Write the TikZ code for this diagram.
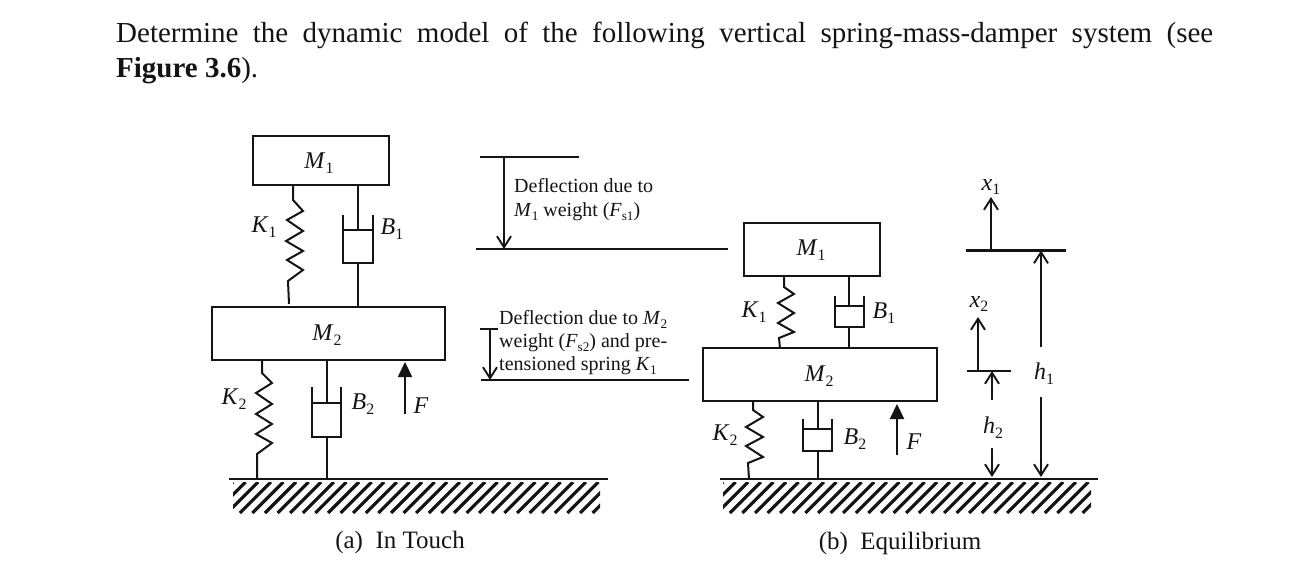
\documentclass[tikz,border=0pt]{standalone}
\usepackage{fontspec}
\setmainfont{Liberation Serif}
\usetikzlibrary{arrows.meta}
\definecolor{inkblack}{RGB}{20, 20, 20}
\newcommand{\Sym}[2]{\textit{#1}\raisebox{-0.2em}{\scalebox{0.66}{#2}}}
\tikzset{
    mass/.style={draw=inkblack, line width=2.1pt, inner sep=0pt, outer sep=0pt},
    lab/.style={inner sep=0pt, font=\fontsize{24}{28}\selectfont, text=inkblack},
    note/.style={inner sep=0pt, anchor=base west, font=\fontsize{20}{23}\selectfont, text=inkblack},
    coil/.style={draw=inkblack, line width=2pt, line join=miter},
    rod/.style={draw=inkblack, line width=2.8pt},
    wall/.style={draw=inkblack, line width=2pt},
    level/.style={draw=inkblack, line width=2.2pt},
    openarrow/.style={draw=inkblack, line width=1.9pt, -{Straight Barb[length=11pt,width=14pt,line width=1.9pt]}},
    forcearrow/.style={draw=inkblack, line width=2.2pt, -{Triangle[length=15pt,width=14pt]}}
}
\begin{document}
\begin{tikzpicture}[x=1pt, y=-1pt]
    \useasboundingbox (0,0) rectangle (1316,588);
    % Statement
    \node[inner sep=0pt, anchor=north west, text width=1097pt, align=justify, text=inkblack,
          font=\fontsize{29}{35}\selectfont] (statement) at (116,22)
         {Determine the dynamic model of the following vertical spring-mass-damper system (see\linebreak \textbf{Figure 3.6}).};
    % Masses
    \node[mass, minimum width=136pt, minimum height=49pt] (massOneA) at (321,160.5) {};
    \node[mass, minimum width=233pt, minimum height=53pt] (massTwoA) at (328.5,333.5) {};
    \node[mass, minimum width=136pt, minimum height=53pt] (massOneB) at (812,249.5) {};
    \node[mass, minimum width=234pt, minimum height=53pt] (massTwoB) at (820,374.5) {};
    % Ground
    \coordinate (groundAl) at (229,479);
    \coordinate (groundAr) at (608,479);
    \coordinate (groundBl) at (720,479);
    \coordinate (groundBr) at (1098,479);
    \draw[level] (groundAl) -- (groundAr);
    \draw[level] (groundBl) -- (groundBr);
    \foreach \xa/\xb in {233/600, 723/1091}{
        \begin{scope}
            \clip (\xa,482) rectangle (\xb,513);
            \foreach \k in {0,...,32}
                \draw[inkblack, line width=3.2pt] (\xa-31+\k*12.6,513) -- ++(31,-31);
        \end{scope}
    }
    % Springs
    \draw[coil] (massOneA.south -| 293,0) -- (293,200) -- (303,211) -- (287,220) -- (303,231) -- (286,241)
                -- (303,251) -- (287,260) -- (303,270) -- (288,281) -- (289,304);
    \draw[coil] (massTwoA.south -| 262,0) -- (262,373) -- (272,383) -- (256,393) -- (272,404) -- (256,414)
                -- (272,424) -- (256,434) -- (272,443) -- (257,454) -- (groundAl -| 257,0);
    \draw[coil] (massOneB.south -| 784,0) -- (784,287) -- (794,294) -- (778,303) -- (794,313) -- (778,323)
                -- (794,332) -- (779,338) -- (massTwoB.north -| 780,0);
    \draw[coil] (massTwoB.south -| 753,0) -- (753,410) -- (763,417) -- (746,427) -- (763,437) -- (746,446)
                -- (763,457) -- (748,463) -- (groundBl -| 749,0);
    % Dampers
    \foreach \up/\down/\x/\xl/\xr/\ytop/\ypis/\ymid/\ybot in {
        massOneA.south/massTwoA.north/358/343/373/215/230/248/263,
        massTwoA.south/groundAl/327/312/341/387/403/419/437,
        massOneB.south/massTwoB.north/849/835/864/296/306/318/327,
        massTwoB.south/groundBl/818/803/832/419/429/441/451}{
        \draw[rod] (\up -| \x,0) -- (\x,\ypis);
        \draw[rod] (\x,\ybot) -- (\down -| \x,0);
        \draw[rod] (\xl,\ytop) -- (\xl,\ymid);
        \draw[rod] (\xr,\ytop) -- (\xr,\ymid);
        \draw[wall] (\xl,\ypis) -- (\xr,\ypis);
        \draw[wall] (\xl,\ymid) -- (\xl,\ybot) -- (\xr,\ybot) -- (\xr,\ymid);
    }
    % Forces
    \coordinate (forceA) at (405,414);
    \coordinate (forceB) at (897,455);
    \draw[forcearrow] (forceA) -- (405,362);
    \draw[forcearrow] (forceB) -- (897,404);
    % Deflection levels
    \coordinate (topLa) at (480,157);
    \coordinate (topLb) at (579,157);
    \coordinate (topLc) at (476,249);
    \coordinate (topLd) at (728,249);
    \coordinate (lowLa) at (480,329);
    \coordinate (lowLb) at (498,329);
    \coordinate (lowLc) at (481,380);
    \coordinate (lowLd) at (689,380);
    \draw[level] (topLa) -- (topLb);
    \draw[level] (topLc) -- (topLd);
    \draw[level] (lowLa) -- (lowLb);
    \draw[level] (lowLc) -- (lowLd);
    \draw[openarrow] (topLa -| 504,0) -- (topLc -| 504,0);
    \draw[openarrow] (lowLa -| 490,0) -- (lowLc -| 490,0);
    % Heights
    \coordinate (levelOneL) at (966,250.5);
    \coordinate (levelOneR) at (1066,250.5);
    \coordinate (levelTwoL) at (967,371);
    \coordinate (levelTwoR) at (1011,371);
    \draw[level] (levelOneL) -- (levelOneR);
    \draw[level] (levelTwoL) -- (levelTwoR);
    \draw[openarrow] (levelOneL -| 991,0) -- (991,197);
    \draw[openarrow] (levelTwoL -| 978,0) -- (978,317);
    \draw[openarrow] (1041,347) -- (levelOneL -| 1041,0);
    \draw[openarrow] (1041,397) -- (1041,477);
    \draw[openarrow] (992,400) -- (levelTwoL -| 992,0);
    \draw[openarrow] (992,448) -- (992,477);
    % Labels (a)
    \node[lab] (labMoneA) at (319,163) {\Sym{M}{1}};
    \node[lab] (labMtwoA) at (327,335) {\Sym{M}{2}};
    \node[lab] (labKoneA) at (264,227) {\Sym{K}{1}};
    \node[lab] (labBoneA) at (392,229) {\Sym{B}{1}};
    \node[lab] (labKtwoA) at (234,399) {\Sym{K}{2}};
    \node[lab] (labBtwoA) at (363,404) {\Sym{B}{2}};
    \node[lab] (labFA) at (421,406) {\textit{F}};
    \node[lab, font=\fontsize{25}{28}\selectfont] (capA) at (400,542) {(a)\ \ In Touch};
    % Labels (b)
    \node[lab] (labMoneB) at (811,250) {\Sym{M}{1}};
    \node[lab] (labMtwoB) at (819,376) {\Sym{M}{2}};
    \node[lab] (labKoneB) at (754,312) {\Sym{K}{1}};
    \node[lab] (labBoneB) at (884,313) {\Sym{B}{1}};
    \node[lab] (labKtwoB) at (725,435) {\Sym{K}{2}};
    \node[lab] (labBtwoB) at (855,439) {\Sym{B}{2}};
    \node[lab] (labFB) at (914,442) {\textit{F}};
    \node[lab, font=\fontsize{25}{28}\selectfont] (capB) at (900,543) {(b)\ \ Equilibrium};
    \node[lab] (labXone) at (991,187) {\Sym{x}{1}};
    \node[lab] (labXtwo) at (979,304) {\Sym{x}{2}};
    \node[lab] (labHone) at (1044,374) {\Sym{h}{1}};
    \node[lab] (labHtwo) at (993,428) {\Sym{h}{2}};
    % Deflection notes
    \node[note] (noteOneA) at (514,193) {Deflection due to};
    \node[note] (noteOneB) at (514,216) {\Sym{M}{1} weight (\Sym{F}{s1})};
    \node[note] (noteTwoA) at (499,324) {Deflection due to \Sym{M}{2}};
    \node[note] (noteTwoB) at (499,347) {weight (\Sym{F}{s2}) and pre-};
    \node[note] (noteTwoC) at (499,370) {tensioned spring \Sym{K}{1}};
\end{tikzpicture}
\end{document}
